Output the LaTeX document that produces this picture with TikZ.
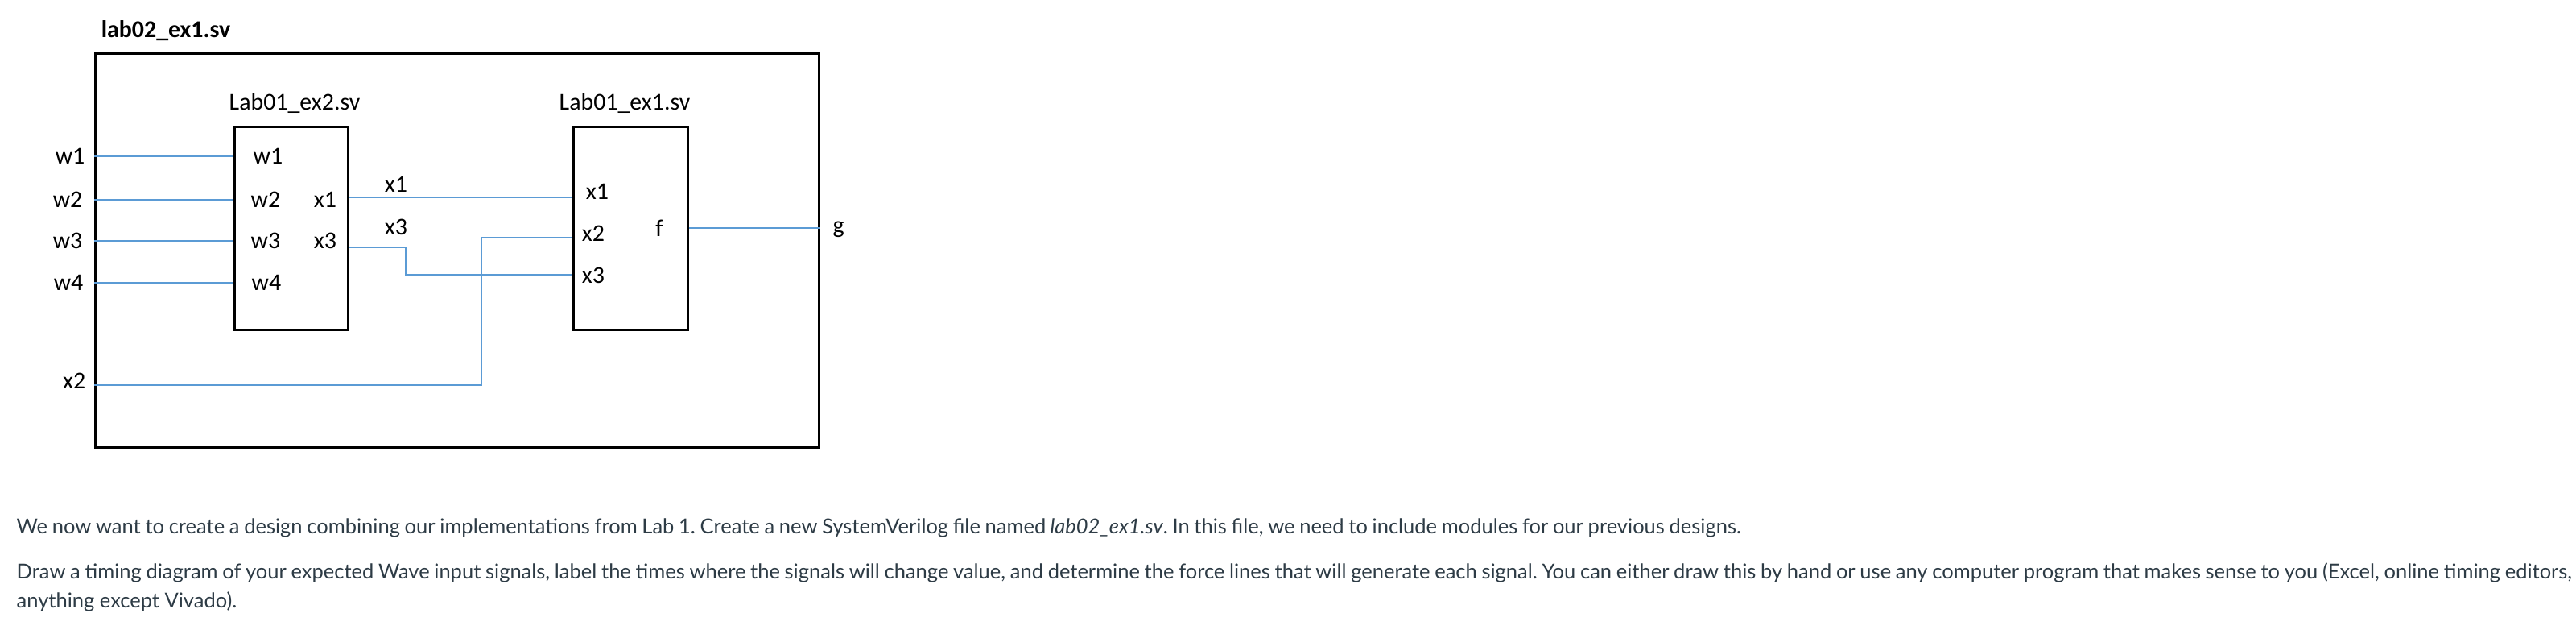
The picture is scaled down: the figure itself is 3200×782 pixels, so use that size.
\documentclass[tikz,border=0pt]{standalone}
\usepackage{fontspec}
\setmainfont{Lato}
\newfontfamily\calibfont{Carlito}
\usepackage{xcolor}
\usepackage{tikz}
\usetikzlibrary{calc}
\definecolor{wireblue}{RGB}{91,155,213}
\definecolor{bodygray}{RGB}{45,59,69}
\newcommand{\modfont}{\calibfont\fontsize{8.5pt}{10pt}\selectfont}
\newcommand{\bodyfont}{\fontsize{7.25pt}{10pt}\selectfont\frenchspacing}

\begin{document}
\begin{tikzpicture}[x=0.01cm, y=-0.01cm,
    every node/.style={inner sep=0pt, font=\modfont},
    modbox/.style={draw, line width=0.03cm, rectangle},
    wire/.style={draw=wireblue, line width=0.025cm},
    body/.style={anchor=base west, font=\bodyfont, text=bodygray}]
  \useasboundingbox (0,0) rectangle (3200,782);

  % module outlines
  \node[modbox, minimum width=8.98cm, minimum height=4.88cm] (top) at (568,311) {};
  \node[modbox, minimum width=1.40cm, minimum height=2.51cm] (ex2) at (362,283.5) {};
  \node[modbox, minimum width=1.41cm, minimum height=2.51cm] (ex1) at (783.5,283.5) {};

  \node[anchor=base, font=\modfont\bfseries] (ttop) at (206,47) {lab02\_ex1.sv};
  \node[anchor=base] (tex2) at (366,137) {Lab01\_ex2.sv};
  \node[anchor=base] (tex1) at (776,137) {Lab01\_ex1.sv};

  % top level pins
  \node[anchor=east] (w1) at (106,194) {w1};
  \node[anchor=east] (w2) at (103,248) {w2};
  \node[anchor=east] (w3) at (103,299) {w3};
  \node[anchor=east] (w4) at (104,351) {w4};
  \node[anchor=east] (x2) at (107,473) {x2};
  \node[anchor=west] (g) at (1034,285) {g};

  % ports of Lab01_ex2
  \node (ex2w1) at (333,194) {w1};
  \node (ex2w2) at (330,248) {w2};
  \node (ex2w3) at (330,299) {w3};
  \node (ex2w4) at (331,351) {w4};
  \node (ex2x1) at (404,248) {x1};
  \node (ex2x3) at (404,299) {x3};

  % ports of Lab01_ex1
  \node (ex1x1) at (742,238) {x1};
  \node (ex1x2) at (737,290) {x2};
  \node (ex1x3) at (737,342) {x3};
  \node (ex1f) at (819,283) {f};

  % wire names
  \node (nx1) at (492,229) {x1};
  \node (nx3) at (492,282) {x3};

  \coordinate (rx1) at (0,245);
  \coordinate (rx2) at (598,295);
  \coordinate (rx3) at (504,307);
  \coordinate (bx2) at (598,478);
  \coordinate (bx3) at (504,341);

  \draw[wire] (top.west |- w1) -- (ex2.west |- w1);
  \draw[wire] (top.west |- w2) -- (ex2.west |- w2);
  \draw[wire] (top.west |- w3) -- (ex2.west |- w3);
  \draw[wire] (top.west |- w4) -- (ex2.west |- w4);
  \draw[wire] (ex2.east |- rx1) -- (ex1.west |- rx1);
  \draw[wire] (ex2.east |- rx3) -- (rx3) -- (bx3) -- (ex1.west |- bx3);
  \draw[wire] (top.west |- bx2) -- (bx2) -- (rx2) -- (ex1.west |- rx2);
  \draw[wire] (ex1.east |- ex1f) -- (top.east |- ex1f);

  % question text
  \node[body] (p1) at (20,662) {\hbox to 21.41cm{We now want to create a design combining our implementations from Lab 1. Create a new SystemVerilog file named \textit{lab02\_ex1.sv}. In this file, we need to include modules for our previous designs.}};
  \node[body] (p2) at (20,718) {\hbox to 31.72cm{Draw a timing diagram of your expected Wave input signals, label the times where the signals will change value, and determine the force lines that will generate each signal. You can either draw this by hand or use any computer program that makes sense to you (Excel, online timing editors,}};
  \node[body] (p3) at (20,754) {anything except Vivado).};
\end{tikzpicture}
\end{document}
